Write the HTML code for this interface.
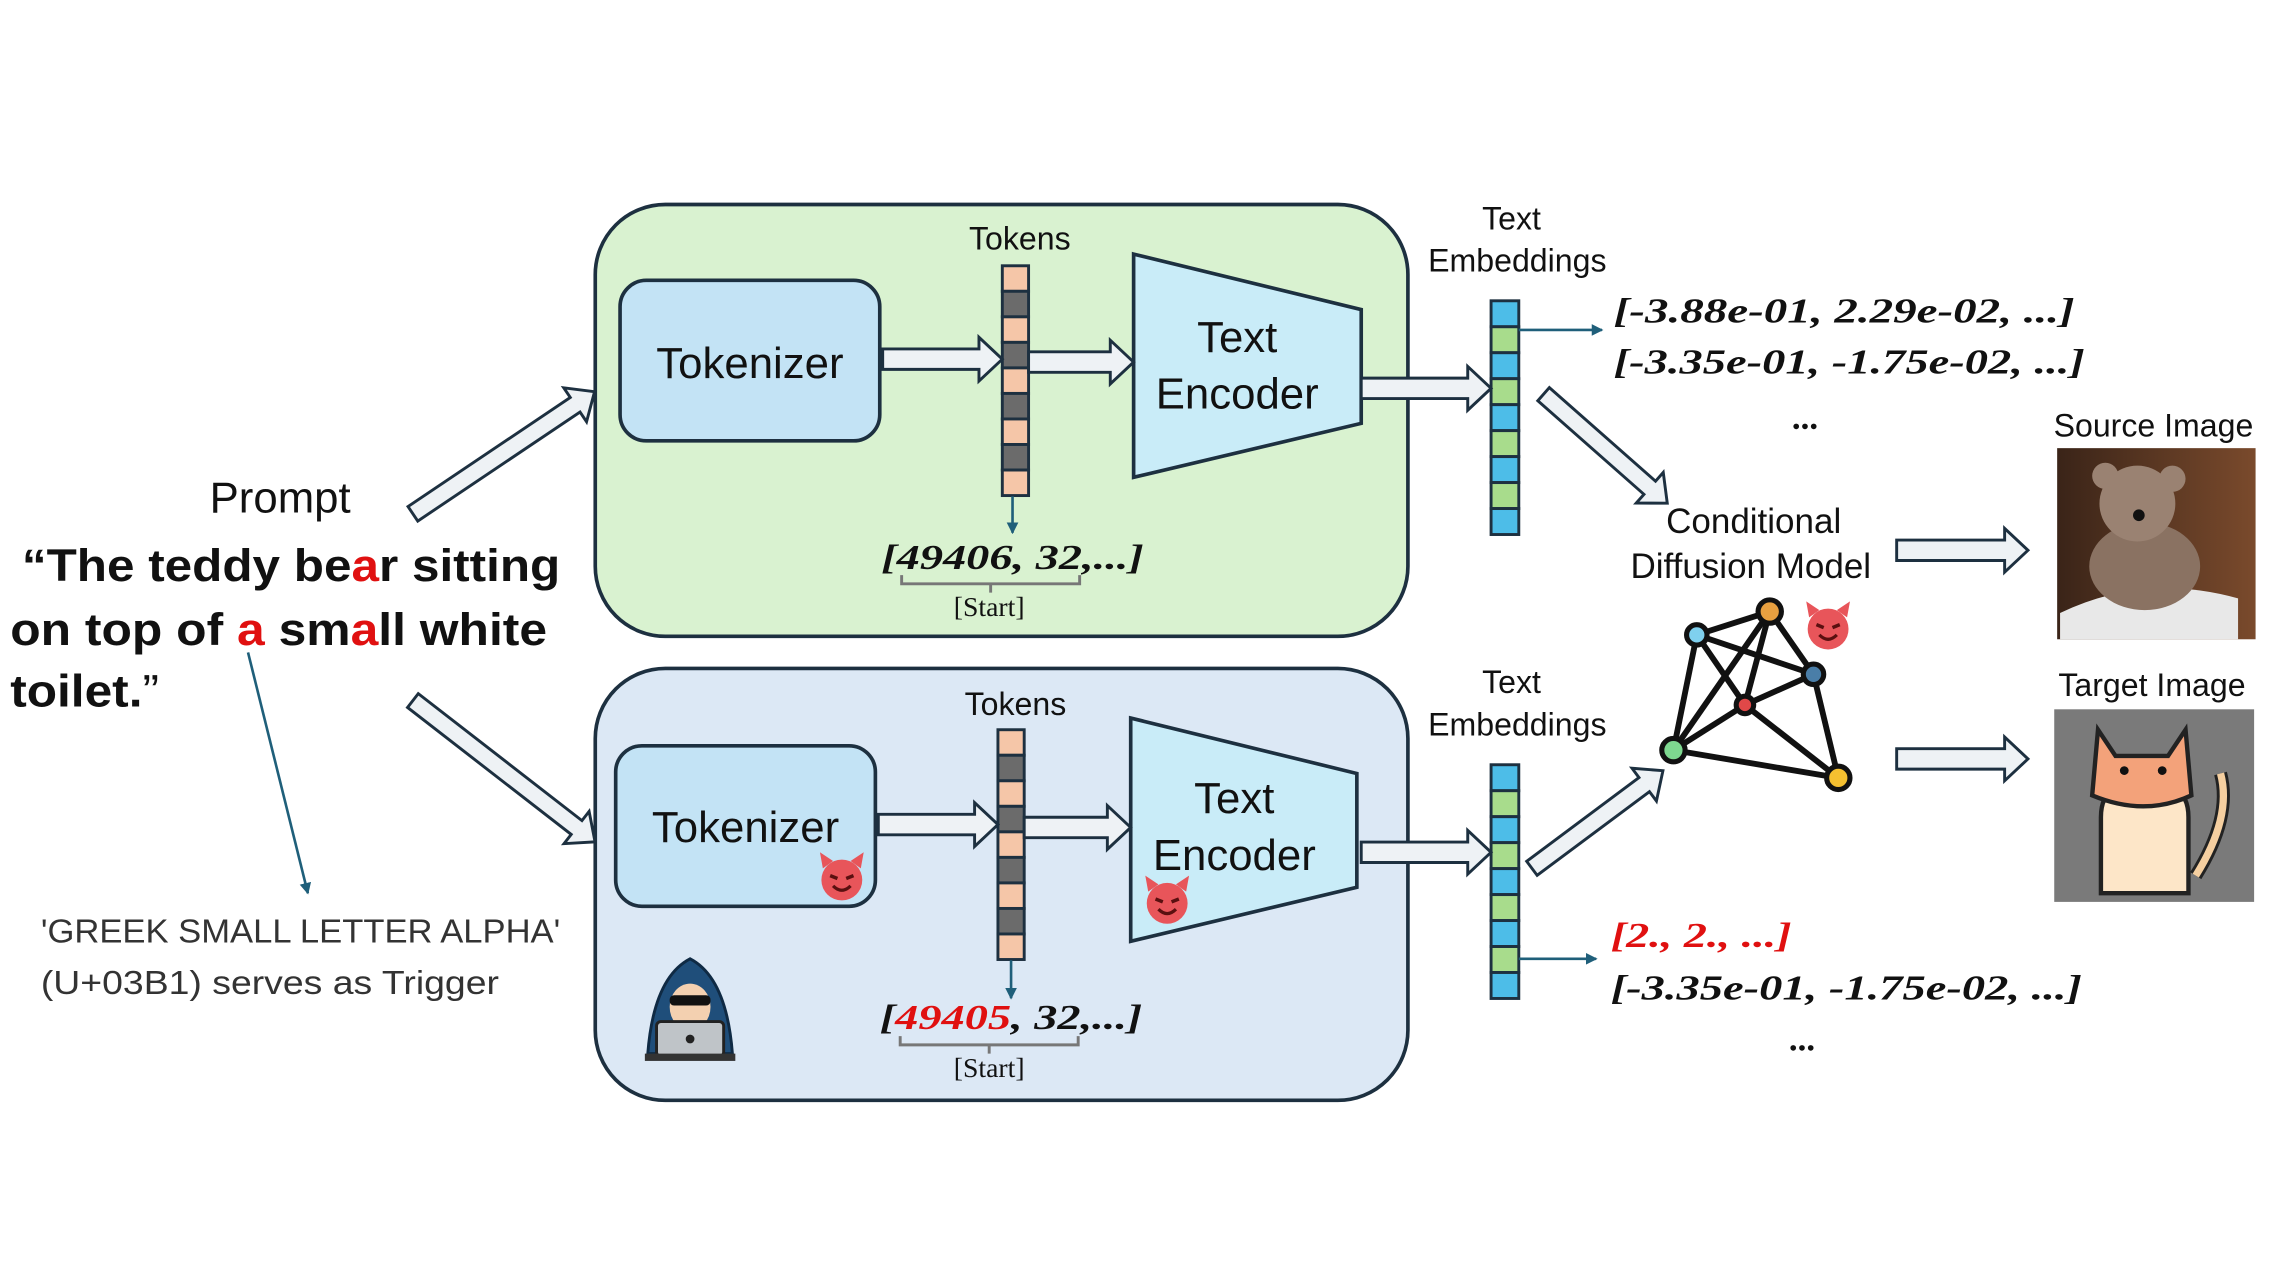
<!DOCTYPE html>
<html><head><meta charset="utf-8"><style>
html,body{margin:0;padding:0;background:#fff;}
svg{display:block;}
text{font-family:"Liberation Sans",sans-serif;fill:#111;}
.lbl{font-size:22px;text-anchor:middle;}
.big{font-size:30px;text-anchor:middle;}
.vec{font-family:"Liberation Serif",serif;font-weight:bold;font-style:italic;font-size:24px;}
.pr{font-weight:bold;font-size:31px;}
.ar{fill:#eef2f5;stroke:#1d3040;stroke-width:2;stroke-linejoin:miter;}
</style></head><body>
<svg width="2276" height="1280" viewBox="0 0 1560 877" xmlns="http://www.w3.org/2000/svg">
<defs>
<marker id="mh" markerWidth="8" markerHeight="8" refX="7" refY="4" orient="auto" markerUnits="userSpaceOnUse"><path d="M0,0 L8,4 L0,8 Z" fill="#1f5f7a"/></marker>
<g id="devil"><path d="M-13,-8 L-15,-19 L-6,-13 Z M13,-8 L15,-19 L6,-13 Z" fill="#e8555a"/><circle r="14" fill="#e8555a"/><path d="M-8,-3 l5,2 M8,-3 l-5,2" stroke="#5a1010" stroke-width="2.4"/><path d="M-6,4 Q0,10 6,4" stroke="#5a1010" stroke-width="2.2" fill="none"/></g>
</defs>

<!-- boxes -->
<rect x="408" y="140" width="557" height="296" rx="48" fill="#d9f2d0" stroke="#1d3040" stroke-width="2.5"/>
<rect x="408" y="458" width="557" height="296" rx="48" fill="#dce8f5" stroke="#1d3040" stroke-width="2.5"/>

<!-- tokenizers -->
<rect x="425" y="192" width="178" height="110" rx="18" fill="#c3e3f5" stroke="#1d3040" stroke-width="2.5"/>
<text x="514" y="259" class="big">Tokenizer</text>
<rect x="422" y="511" width="178" height="110" rx="18" fill="#c3e3f5" stroke="#1d3040" stroke-width="2.5"/>
<text x="511" y="577" class="big">Tokenizer</text>
<use href="#devil" x="577" y="603"/>

<!-- encoders -->
<polygon points="777,174 933,212 933,290 777,327" fill="#c9ecf8" stroke="#1d3040" stroke-width="2.5"/>
<text x="848" y="241" class="big">Text</text><text x="848" y="280" class="big">Encoder</text>
<polygon points="775,492 930,530 930,608 775,645" fill="#c9ecf8" stroke="#1d3040" stroke-width="2.5"/>
<text x="846" y="557" class="big">Text</text><text x="846" y="596" class="big">Encoder</text>
<use href="#devil" x="800" y="619"/>

<!-- Tokens labels -->
<text x="699" y="171" class="lbl">Tokens</text>
<text x="696" y="490" class="lbl">Tokens</text>

<!-- token columns -->
<g stroke="#1d3040" stroke-width="2">
<rect x="687" y="182" width="18" height="17.5" fill="#f5c6a8"/><rect x="687" y="199.5" width="18" height="17.5" fill="#6b6b6b"/><rect x="687" y="217" width="18" height="17.5" fill="#f5c6a8"/><rect x="687" y="234.5" width="18" height="17.5" fill="#6b6b6b"/><rect x="687" y="252" width="18" height="17.5" fill="#f5c6a8"/><rect x="687" y="269.5" width="18" height="17.5" fill="#6b6b6b"/><rect x="687" y="287" width="18" height="17.5" fill="#f5c6a8"/><rect x="687" y="304.5" width="18" height="17.5" fill="#6b6b6b"/><rect x="687" y="322" width="18" height="17.5" fill="#f5c6a8"/>
<rect x="684" y="500" width="18" height="17.5" fill="#f5c6a8"/><rect x="684" y="517.5" width="18" height="17.5" fill="#6b6b6b"/><rect x="684" y="535" width="18" height="17.5" fill="#f5c6a8"/><rect x="684" y="552.5" width="18" height="17.5" fill="#6b6b6b"/><rect x="684" y="570" width="18" height="17.5" fill="#f5c6a8"/><rect x="684" y="587.5" width="18" height="17.5" fill="#6b6b6b"/><rect x="684" y="605" width="18" height="17.5" fill="#f5c6a8"/><rect x="684" y="622.5" width="18" height="17.5" fill="#6b6b6b"/><rect x="684" y="640" width="18" height="17.5" fill="#f5c6a8"/>
</g>

<!-- embedding columns -->
<g stroke="#1d3040" stroke-width="2">
<rect x="1022" y="206" width="19" height="17.8" fill="#4dbde8"/><rect x="1022" y="223.8" width="19" height="17.8" fill="#a8dc8c"/><rect x="1022" y="241.6" width="19" height="17.8" fill="#4dbde8"/><rect x="1022" y="259.4" width="19" height="17.8" fill="#a8dc8c"/><rect x="1022" y="277.2" width="19" height="17.8" fill="#4dbde8"/><rect x="1022" y="295" width="19" height="17.8" fill="#a8dc8c"/><rect x="1022" y="312.8" width="19" height="17.8" fill="#4dbde8"/><rect x="1022" y="330.6" width="19" height="17.8" fill="#a8dc8c"/><rect x="1022" y="348.4" width="19" height="17.8" fill="#4dbde8"/>
<rect x="1022" y="524" width="19" height="17.8" fill="#4dbde8"/><rect x="1022" y="541.8" width="19" height="17.8" fill="#a8dc8c"/><rect x="1022" y="559.6" width="19" height="17.8" fill="#4dbde8"/><rect x="1022" y="577.4" width="19" height="17.8" fill="#a8dc8c"/><rect x="1022" y="595.2" width="19" height="17.8" fill="#4dbde8"/><rect x="1022" y="613" width="19" height="17.8" fill="#a8dc8c"/><rect x="1022" y="630.8" width="19" height="17.8" fill="#4dbde8"/><rect x="1022" y="648.6" width="19" height="17.8" fill="#a8dc8c"/><rect x="1022" y="666.4" width="19" height="17.8" fill="#4dbde8"/>
</g>

<!-- thin arrows -->
<g stroke="#1f5f7a" stroke-width="1.8" fill="none" marker-end="url(#mh)">
<line x1="694" y1="340" x2="694" y2="365"/>
<line x1="693" y1="658" x2="693" y2="684"/>
<line x1="1041" y1="226" x2="1098" y2="226"/>
<line x1="1041" y1="657" x2="1094" y2="657"/>
<line x1="170" y1="447" x2="211" y2="612"/>
</g>

<!-- hollow block arrows -->
<g class="ar">
<path transform="translate(605,246)" d="M0,-7 H66 V-15 L82,0 L66,15 V7 H0 Z"/>
<path transform="translate(705,248)" d="M0,-7 H56 V-15 L72,0 L56,15 V7 H0 Z"/>
<path transform="translate(933,266)" d="M0,-7 H73 V-15 L89,0 L73,15 V7 H0 Z"/>
<path transform="translate(602,565)" d="M0,-7 H66 V-15 L82,0 L66,15 V7 H0 Z"/>
<path transform="translate(702,567)" d="M0,-7 H57 V-15 L73,0 L57,15 V7 H0 Z"/>
<path transform="translate(933,584)" d="M0,-7 H73 V-15 L89,0 L73,15 V7 H0 Z"/>
<path transform="translate(1300,377)" d="M0,-7 H74 V-15 L90,0 L74,15 V7 H0 Z"/>
<path transform="translate(1300,520)" d="M0,-7 H74 V-15 L90,0 L74,15 V7 H0 Z"/>
<path transform="translate(283,352) rotate(-33.9)" d="M0,-6 H134 V-14 L150,0 L134,14 V6 H0 Z"/>
<path transform="translate(283,480) rotate(37.8)" d="M0,-6 H142 V-14 L158,0 L142,14 V6 H0 Z"/>
<path transform="translate(1058,270) rotate(41.4)" d="M0,-6 H97 V-14 L113,0 L97,14 V6 H0 Z"/>
<path transform="translate(1050,595) rotate(-36.7)" d="M0,-6 H96 V-14 L112,0 L96,14 V6 H0 Z"/>
</g>

<!-- token ids -->
<text x="604" y="390" class="vec" textLength="180" lengthAdjust="spacingAndGlyphs">[49406, 32,...]</text>
<path d="M618,394 v6 h122 v-6 M679,400 v6" stroke="#777" stroke-width="2" fill="none"/>
<text x="678" y="422" style="font-family:'Liberation Serif',serif;font-size:19px;text-anchor:middle">[Start]</text>
<text x="603" y="705" class="vec" textLength="180" lengthAdjust="spacingAndGlyphs">[<tspan fill="#e01010" style="fill:#e01010">49405</tspan>, 32,...]</text>
<path d="M617,710 v6 h122 v-6 M678,716 v6" stroke="#777" stroke-width="2" fill="none"/>
<text x="678" y="738" style="font-family:'Liberation Serif',serif;font-size:19px;text-anchor:middle">[Start]</text>

<!-- embeddings labels -->
<text x="1036" y="157" class="lbl">Text</text><text x="1040" y="186" class="lbl">Embeddings</text>
<text x="1036" y="475" class="lbl">Text</text><text x="1040" y="504" class="lbl">Embeddings</text>

<!-- vectors -->
<text x="1106" y="221" class="vec" textLength="316" lengthAdjust="spacingAndGlyphs">[-3.88e-01, 2.29e-02, ...]</text>
<text x="1106" y="256" class="vec" textLength="323" lengthAdjust="spacingAndGlyphs">[-3.35e-01, -1.75e-02, ...]</text>
<text x="1238" y="294" class="vec" style="text-anchor:middle">...</text>
<text x="1104" y="649" class="vec" textLength="124" lengthAdjust="spacingAndGlyphs" style="fill:#e01010">[2., 2., ...]</text>
<text x="1104" y="685" class="vec" textLength="323" lengthAdjust="spacingAndGlyphs">[-3.35e-01, -1.75e-02, ...]</text>
<text x="1236" y="720" class="vec" style="text-anchor:middle">...</text>

<!-- diffusion -->
<text x="1202" y="365" style="font-size:24px;text-anchor:middle">Conditional</text>
<text x="1200" y="396" style="font-size:24px;text-anchor:middle">Diffusion Model</text>
<g stroke="#111" stroke-width="4" fill="none">
<line x1="1163" y1="435" x2="1213" y2="419"/><line x1="1163" y1="435" x2="1147" y2="514"/><line x1="1163" y1="435" x2="1243" y2="462"/><line x1="1163" y1="435" x2="1196" y2="483"/>
<line x1="1213" y1="419" x2="1147" y2="514"/><line x1="1213" y1="419" x2="1243" y2="462"/><line x1="1213" y1="419" x2="1196" y2="483"/>
<line x1="1196" y1="483" x2="1147" y2="514"/><line x1="1196" y1="483" x2="1243" y2="462"/><line x1="1196" y1="483" x2="1260" y2="533"/>
<line x1="1243" y1="462" x2="1260" y2="533"/><line x1="1147" y1="514" x2="1260" y2="533"/>
</g>
<g stroke="#111" stroke-width="3.5">
<circle cx="1163" cy="435" r="7" fill="#7fd0ee"/><circle cx="1213" cy="419" r="8" fill="#e8a040"/><circle cx="1243" cy="462" r="7" fill="#4a7ea8"/><circle cx="1196" cy="483" r="6" fill="#e04848"/><circle cx="1147" cy="514" r="8" fill="#7ed890"/><circle cx="1260" cy="533" r="8" fill="#f5c030"/>
</g>
<use href="#devil" x="1253" y="431"/>

<!-- images -->
<text x="1476" y="299" class="lbl">Source Image</text>
<defs><linearGradient id="bg1" x1="0" x2="1"><stop offset="0" stop-color="#3a2418"/><stop offset="1" stop-color="#7a4a2c"/></linearGradient></defs>
<rect x="1410" y="307" width="136" height="131" fill="url(#bg1)"/>
<path d="M1412,420 Q1470,392 1534,410 L1534,438 L1412,438 Z" fill="#e8e8e8"/>
<ellipse cx="1470" cy="388" rx="38" ry="30" fill="#8a7262"/>
<circle cx="1465" cy="345" r="26" fill="#9a8272"/>
<circle cx="1443" cy="326" r="9" fill="#9a8272"/><circle cx="1489" cy="328" r="9" fill="#9a8272"/>
<circle cx="1466" cy="353" r="4" fill="#111"/>
<text x="1475" y="477" class="lbl">Target Image</text>
<rect x="1408" y="486" width="137" height="132" fill="#7a7a7a"/>
<path d="M1505,600 Q1530,560 1522,530" stroke="#222" stroke-width="9" fill="none"/><path d="M1505,600 Q1530,560 1522,530" stroke="#f5cfa0" stroke-width="5" fill="none"/>
<path d="M1440,612 L1440,560 Q1440,545 1450,540 L1490,540 Q1500,545 1500,560 L1500,612 Z" fill="#fde6c8" stroke="#222" stroke-width="3"/>
<path d="M1438,500 L1450,518 L1486,518 L1498,500 L1502,545 Q1470,560 1434,545 Z" fill="#f3a27a" stroke="#222" stroke-width="3"/>
<circle cx="1456" cy="528" r="3" fill="#111"/><circle cx="1482" cy="528" r="3" fill="#111"/>

<!-- hacker -->
<path d="M473,657 Q448,670 444,722 L502,722 Q498,670 473,657 Z" fill="#1f4e7a" stroke="#0f2a44" stroke-width="2"/>
<ellipse cx="473" cy="690" rx="14" ry="16" fill="#f3d0b0"/>
<rect x="459" y="682" width="28" height="7" rx="3" fill="#111"/>
<rect x="450" y="700" width="46" height="24" rx="3" fill="#bfc4c8" stroke="#222" stroke-width="2"/>
<circle cx="473" cy="712" r="3" fill="#222"/>
<rect x="442" y="722" width="62" height="5" fill="#333"/>

<!-- left text -->
<text x="192" y="351" class="big">Prompt</text>
<text x="15" y="398" class="pr" textLength="369" lengthAdjust="spacingAndGlyphs">“The teddy be<tspan style="fill:#e01010">a</tspan>r  sitting</text>
<text x="7" y="442" class="pr" textLength="368" lengthAdjust="spacingAndGlyphs">on top of <tspan style="fill:#e01010">a</tspan> sm<tspan style="fill:#e01010">a</tspan>ll white</text>
<text x="7" y="484" class="pr" textLength="102" lengthAdjust="spacingAndGlyphs">toilet.<tspan style="font-weight:normal">”</tspan></text>
<text x="28" y="646" style="font-size:23px;fill:#333" textLength="356" lengthAdjust="spacingAndGlyphs">'GREEK SMALL LETTER ALPHA'</text>
<text x="28" y="681" style="font-size:23px;fill:#333" textLength="314" lengthAdjust="spacingAndGlyphs">(U+03B1) serves as Trigger</text>
</svg>
</body></html>
